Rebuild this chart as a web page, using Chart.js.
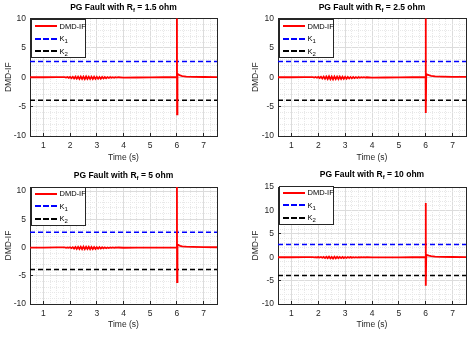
<!DOCTYPE html>
<html><head><meta charset="utf-8">
<script src="https://cdn.jsdelivr.net/npm/chart.js@4.4.1/dist/chart.umd.min.js"></script>
<style>
html,body{margin:0;padding:0;background:#fff;width:474px;height:350px;overflow:hidden;font-family:"Liberation Sans",Arial,Helvetica,sans-serif;}
canvas{position:absolute;}
.ttl{position:absolute;font-weight:bold;font-size:8.5px;color:#000;white-space:nowrap;transform:translate(-50%,-50%);line-height:10px;}
.ttl sub,.leg sub{font-size:6px;vertical-align:-2px;line-height:0;}
.leg{position:absolute;background:#fff;border:1px solid #262626;box-sizing:border-box;font-size:7.5px;color:#000;}
.row{position:absolute;left:3px;height:10px;display:flex;align-items:center;white-space:nowrap;}
.sw{width:22px;height:0;margin-right:3px;}
</style></head><body>
<canvas id="c0" width="237" height="175" style="left:0;top:0"></canvas>
<canvas id="c1" width="237" height="175" style="left:237px;top:0"></canvas>
<canvas id="c2" width="237" height="175" style="left:0;top:175px"></canvas>
<canvas id="c3" width="237" height="175" style="left:237px;top:175px"></canvas>
<div id="ov"></div>
<script>
// ---- data ----
const T = [0.5,1.0,1.5,
 1.80,1.85,1.90,1.95,2.00,2.05,2.10,2.15,2.20,2.25,2.30,2.35,2.40,2.45,2.50,2.55,2.60,2.65,2.70,2.75,2.80,2.85,2.90,2.95,3.00,3.05,3.10,3.15,3.20,3.25,3.30,3.35,3.40,3.45,3.50,3.55,3.60,3.65,3.70,3.75,3.80,
 4.0,4.5,5.0,5.5,5.9,5.995,
 6.0,6.005,
 6.02,6.06,6.12,6.2,6.35,6.6,7.0,7.5];

const DMD_R15 = [0.0,0.0,0.02,
 0.03,-0.06,0.05,-0.10,0.06,-0.15,0.08,-0.20,0.10,-0.25,0.10,-0.28,0.12,-0.30,0.10,-0.32,0.12,-0.30,0.10,-0.28,0.10,-0.30,0.08,-0.28,0.08,-0.25,0.06,-0.25,0.05,-0.20,0.04,-0.16,0.03,-0.12,0.02,-0.10,0.01,-0.08,0.00,-0.06,0.00,
 -0.05,-0.04,-0.02,0.0,0.0,0.0,
 11.5,-6.3,
 0.6,0.45,0.3,0.2,0.12,0.07,0.04,0.03];

const DMD_R25 = [0.0,0.0,0.02,
 0.02,-0.05,0.04,-0.08,0.06,-0.12,0.09,-0.20,0.12,-0.26,0.13,-0.30,0.15,-0.32,0.12,-0.35,0.13,-0.32,0.11,-0.30,0.12,-0.30,0.09,-0.27,0.07,-0.24,0.06,-0.21,0.05,-0.18,0.04,-0.15,0.03,-0.12,0.02,-0.09,0.01,-0.06,0.01,-0.05,0.00,
 -0.05,-0.04,-0.02,0.0,0.0,0.0,
 11.5,-6.1,
 0.55,0.45,0.35,0.25,0.15,0.1,0.06,0.05];

const DMD_R5 = [0.0,0.0,0.02,
 0.02,-0.04,0.03,-0.06,0.05,-0.11,0.07,-0.18,0.11,-0.24,0.12,-0.27,0.13,-0.30,0.15,-0.30,0.12,-0.27,0.13,-0.30,0.11,-0.27,0.09,-0.24,0.07,-0.21,0.06,-0.18,0.04,-0.15,0.03,-0.12,0.02,-0.09,0.01,-0.07,0.01,-0.05,0.00,-0.03,0.00,
 -0.04,-0.03,-0.02,0.0,0.0,0.0,
 10.7,-6.1,
 0.6,0.45,0.3,0.22,0.15,0.1,0.06,0.05];

const DMD_R10 = [0.0,0.0,0.02,
 0.01,-0.03,0.02,-0.05,0.04,-0.07,0.05,-0.12,0.07,-0.18,0.09,-0.21,0.11,-0.24,0.09,-0.27,0.11,-0.24,0.09,-0.21,0.07,-0.18,0.06,-0.17,0.05,-0.15,0.04,-0.12,0.03,-0.09,0.02,-0.07,0.02,-0.06,0.01,-0.05,0.01,-0.03,0.00,-0.02,0.00,
 -0.03,-0.02,-0.01,0.0,0.0,0.0,
 11.6,-6.1,
 0.55,0.45,0.35,0.25,0.15,0.08,0.05,0.04];

const K1 = 2.7;
const K2 = -3.9;
const X_RANGE = [0.5, 7.5];
const X_TICKS = [1,2,3,4,5,6,7];
const Y_TICKS_A = [-10,-5,0,5,10];
const Y_TICKS_B = [-10,-5,0,5,10,15];
const TITLES = ['1.5','2.5','5','10'];
const SERIES = [DMD_R15, DMD_R25, DMD_R5, DMD_R10];
const Y_RANGES = [[-10,10],[-10,10],[-10,10.7],[-10,15]];
const Y_TICK_SETS = [Y_TICKS_A, Y_TICKS_A, Y_TICKS_A, Y_TICKS_B];

// ---- layout (canvas-relative plot box margins) ----
const LAYOUT = [
 {cx:0,   cy:0,   left:30, top:18.5, right:20, bottom:39, xtPad:12.4, ytPad:3.2},
 {cx:237, cy:0,   left:41, top:18.5, right:8,  bottom:39, xtPad:12.4, ytPad:13.2},
 {cx:0,   cy:175, left:30, top:11,   right:20, bottom:46, xtPad:19.9, ytPad:3.2},
 {cx:237, cy:175, left:41, top:10,   right:8,  bottom:46, xtPad:19.9, ytPad:13.2}
];
const F = "'Liberation Sans', Arial, Helvetica, sans-serif";

function minorTicks(lo, hi, step, majorStep){
  const out=[]; const n=Math.round((hi-lo)/step);
  for(let i=0;i<=n;i++){const v=Math.round((lo+i*step)*100)/100; const r=v/majorStep; if(Math.abs(r-Math.round(r))>1e-6) out.push({value:v});}
  return out;
}

function makeChart(idx){
  const L = LAYOUT[idx], vals = SERIES[idx], yr = Y_RANGES[idx], yt = Y_TICK_SETS[idx];
  new Chart(document.getElementById('c'+idx), {
    type:'line',
    data:{datasets:[
      {label:'DMD-IF', data:T.map((t,i)=>({x:t,y:vals[i]})), borderColor:'#ff0000', borderWidth:1.8, pointRadius:0, tension:0, order:0},
      {label:'K1', data:[{x:X_RANGE[0],y:K1},{x:X_RANGE[1],y:K1}], borderColor:'#0000ff', borderDash:[5,3], borderWidth:1.5, pointRadius:0, order:1},
      {label:'K2', data:[{x:X_RANGE[0],y:K2},{x:X_RANGE[1],y:K2}], borderColor:'#000000', borderDash:[5,3], borderWidth:1.5, pointRadius:0, order:2}
    ]},
    options:{
      animation:false, responsive:false, devicePixelRatio:1, layout:{padding:0},
      plugins:{legend:{display:false}, tooltip:{enabled:false}},
      scales:{
        x:{type:'linear', position:'bottom', min:X_RANGE[0], max:X_RANGE[1],
           afterBuildTicks:s=>{s.ticks=X_TICKS.map(v=>({value:v}));},
           afterFit:s=>{s.height=L.bottom;},
           grid:{color:'#dcdcdc', lineWidth:1, drawTicks:true, tickLength:-3, tickColor:'#262626'},
           border:{display:true, color:'#262626', width:1},
           ticks:{font:{size:8.5,family:F}, color:'#262626', padding:8, maxRotation:0, autoSkip:false},
           title:{display:true, text:'Time (s)', font:{size:8.5,family:F}, color:'#262626', padding:{top:0,bottom:L.xtPad}}},
        y:{type:'linear', position:'left', min:yr[0], max:yr[1],
           afterBuildTicks:s=>{s.ticks=yt.map(v=>({value:v}));},
           afterFit:s=>{s.width=L.left;},
           grid:{color:'#dcdcdc', lineWidth:1, drawTicks:true, tickLength:-3, tickColor:'#262626'},
           border:{display:true, color:'#262626', width:1},
           ticks:{font:{size:8.5,family:F}, color:'#262626', padding:7, autoSkip:false},
           title:{display:true, text:'DMD-IF', font:{size:8.5,family:F}, color:'#262626', padding:{top:L.ytPad,bottom:0}}},
        xm:{type:'linear', position:'top', min:X_RANGE[0], max:X_RANGE[1],
           afterBuildTicks:s=>{s.ticks=minorTicks(X_RANGE[0],X_RANGE[1],0.25,1);},
           afterFit:s=>{s.height=L.top;},
           grid:{color:'#e8e8e8', lineWidth:1, drawTicks:false},
           border:{display:true, color:'#262626', width:1, dash:[1,1]},
           ticks:{display:false}},
        ym:{type:'linear', position:'right', min:yr[0], max:yr[1],
           afterBuildTicks:s=>{s.ticks=minorTicks(yr[0],Math.floor(yr[1]),1,5);},
           afterFit:s=>{s.width=L.right;},
           grid:{color:'#e8e8e8', lineWidth:1, drawTicks:false},
           border:{display:true, color:'#262626', width:1, dash:[1,1]},
           ticks:{display:false}}
      }
    }
  });
}

const ov = document.getElementById('ov');
function addOverlay(idx){
  const L = LAYOUT[idx];
  const pl = L.cx + L.left, pr = L.cx + 237 - L.right, pt = L.cy + L.top;
  const t = document.createElement('div');
  t.className='ttl';
  t.style.left = ((pl+pr)/2)+'px';
  t.style.top = (pt-11.5)+'px';
  t.innerHTML = 'PG Fault with R<sub>f</sub> = '+TITLES[idx]+' ohm';
  ov.appendChild(t);
  const lg = document.createElement('div');
  lg.className='leg';
  lg.style.left=(pl+0.5)+'px'; lg.style.top=(pt+0.5)+'px';
  lg.style.width='55px'; lg.style.height='39px';
  const rows=[['DMD-IF','2px solid #ff0000'],['K<sub>1</sub>','2px dashed #0000ff'],['K<sub>2</sub>','2px dashed #000000']];
  rows.forEach((r,i)=>{
    const d=document.createElement('div'); d.className='row'; d.style.top=(1+i*12.7)+'px';
    d.innerHTML='<span class="sw" style="border-top:'+r[1]+'"></span><span>'+r[0]+'</span>';
    lg.appendChild(d);
  });
  ov.appendChild(lg);
}
for(let i=0;i<4;i++){makeChart(i); addOverlay(i);}
</script>
</body></html>
